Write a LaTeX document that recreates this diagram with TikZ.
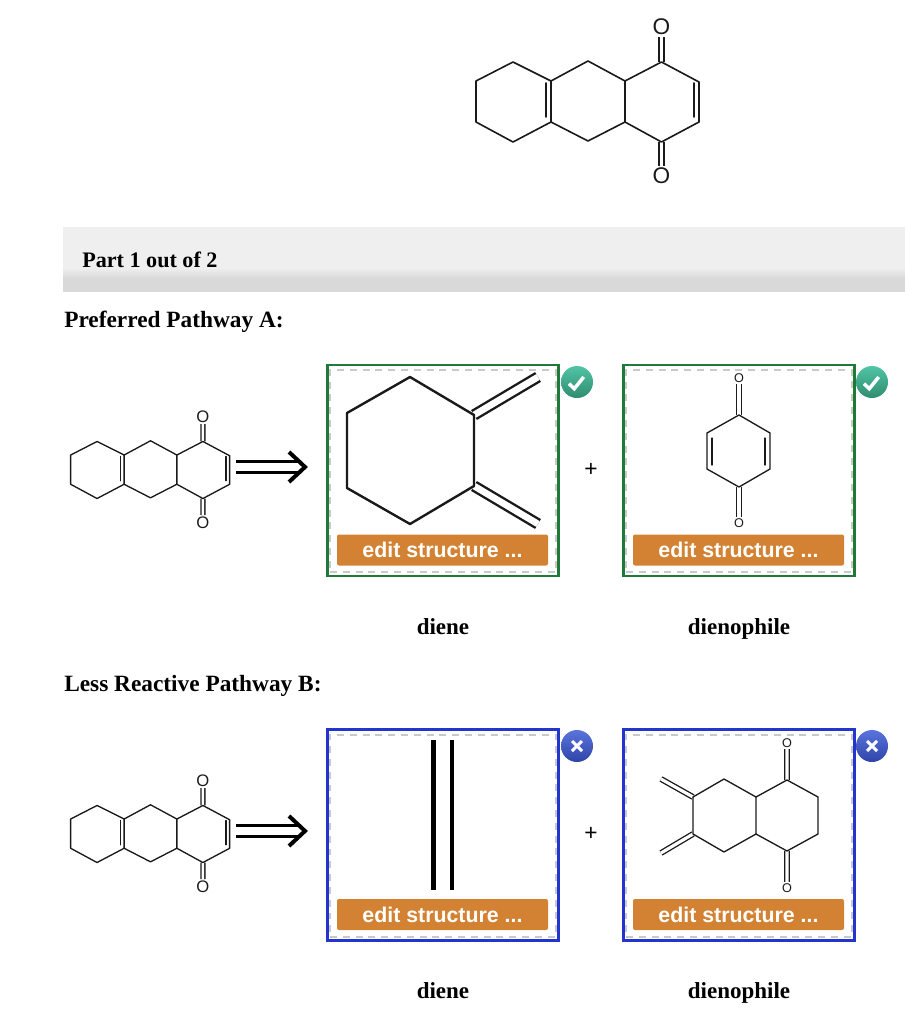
\documentclass[tikz,border=0pt]{standalone}
\usepackage{fontspec}
\setmainfont{Liberation Serif}
\setsansfont{Liberation Sans}
\definecolor{okedge}{HTML}{1F7A3A}
\definecolor{noedge}{HTML}{2236CF}
\definecolor{dashgrey}{HTML}{C9C9C9}
\definecolor{btnfill}{HTML}{D28232}
\definecolor{barlight}{HTML}{EFEFEF}
\definecolor{bardark}{HTML}{D9D9D9}
\definecolor{inkblack}{HTML}{1A1A1A}
\definecolor{okhi}{HTML}{52C4A6}
\definecolor{oklo}{HTML}{2F8C6E}
\definecolor{nohi}{HTML}{5A74DC}
\definecolor{nolo}{HTML}{2E44A8}
\pgfdeclareverticalshading{barshade}{100bp}{color(0bp)=(bardark); color(35bp)=(bardark); color(43bp)=(barlight); color(100bp)=(barlight)}
\tikzset{
    x=0.75pt,
    y=-0.75pt,
    bond/.style =   {draw=inkblack,
                    line cap=round,
                    line join=round},
    atom/.style =   {inner sep=0.8pt,
                    text=inkblack,
                    font=\sffamily\fontsize{#1}{#1}\selectfont},
    bigmol/.style = {line width=1.2pt,
                    dbond/.style={draw=inkblack,double=white,double distance=2.8pt},
                    oxygen/.style={atom=17}},
    smallmol/.style = {line width=1pt,
                    dbond/.style={draw=inkblack,double=white,double distance=1.9pt},
                    oxygen/.style={atom=12.5}},
    boxmol/.style = {line width=1pt,
                    dbond/.style={draw=inkblack,double=white,double distance=2.4pt},
                    oxygen/.style={atom=9.5}},
    widemol/.style = {line width=1.8pt,
                    dbond/.style={draw=inkblack,double=white,double distance=5pt}},
    heading/.style = {font=\bfseries\fontsize{17.5}{20}\selectfont,
                    text=black,
                    anchor=base west,
                    inner sep=0pt},
    caption/.style = {font=\bfseries\fontsize{17.25}{20}\selectfont,
                    text=black,
                    anchor=base,
                    inner sep=0pt},
    plus/.style =   {font=\sffamily\fontsize{17}{20}\selectfont,
                    text=black,
                    inner sep=0pt},
    bar/.style =    {rectangle,
                    shading=barshade,
                    minimum width=631.5pt,
                    minimum height=48pt,
                    inner sep=0pt,
                    outer sep=0pt},
    pics/tricycle/.style = {code={
        \coordinate (t1) at (-75,-40);
        \coordinate (j1) at (-37,-21);
        \coordinate (j2) at (-37,20);
        \coordinate (t2) at (-75,40);
        \coordinate (t3) at (-112,20);
        \coordinate (t4) at (-112,-21);
        \coordinate (m1) at (0,-41);
        \coordinate (f1) at (37,-21);
        \coordinate (f2) at (37,20);
        \coordinate (m2) at (0,39);
        \coordinate (k1) at (73.5,-40);
        \coordinate (e1) at (111,-20);
        \coordinate (e2) at (111,20);
        \coordinate (k2) at (73.5,40);
        \coordinate (i1) at (-42,-19);
        \coordinate (i2) at (-42,15);
        \coordinate (i3) at (106,-19);
        \coordinate (i4) at (106,15);
        \node[oxygen] (o1) at (73.5,-75) {O};
        \node[oxygen] (o2) at (73.5,74)  {O};
        \draw[dbond] (k1) -- (o1);
        \draw[dbond] (k2) -- (o2);
        \draw[bond] (j1) -- (t1) -- (t4) -- (t3) -- (t2) -- (j2) -- cycle;
        \draw[bond] (j1) -- (m1) -- (f1) -- (f2) -- (m2) -- (j2);
        \draw[bond] (f1) -- (k1) -- (e1) -- (e2) -- (k2) -- (f2);
        \draw[bond] (i1) -- (i2);
        \draw[bond] (i3) -- (i4);
    }},
    pics/panel/.style = {code={
        \node[rectangle, draw=dashgrey, line width=1.5pt, dash pattern=on 5.2pt off 4.4pt,
            minimum width=169.5pt, minimum height=151.5pt, inner sep=0pt] (inner) at (0,0.5) {};
        \node[rectangle, draw=#1, line width=2.2pt,
            minimum width=173.25pt, minimum height=158.25pt, inner sep=0pt] (frame) at (0,0) {};
        \node[rectangle, fill=btnfill, rounded corners=1.5pt, text=white,
            font=\sffamily\bfseries\fontsize{16}{18}\selectfont,
            minimum width=158.25pt, minimum height=23.25pt, inner sep=0pt] (btn) at (-0.5,79.5) {edit structure ...};
    }},
    pics/okbadge/.style = {code={
        \node[circle, top color=okhi, bottom color=oklo, draw=none,
            minimum size=24pt, inner sep=0pt] (disc) at (0,0) {};
        \coordinate (c1) at (-8,1.7);
        \coordinate (c2) at (-2.7,6.7);
        \coordinate (c3) at (6.7,-5);
        \draw[white, line width=2.6pt] (c1) -- (c2) -- (c3);
    }},
    pics/nobadge/.style = {code={
        \node[circle, top color=nohi, bottom color=nolo, draw=none,
            minimum size=24pt, inner sep=0pt] (disc) at (0,0) {};
        \coordinate (c1) at (-5,-5);
        \coordinate (c2) at (5,5);
        \coordinate (c3) at (-5,5);
        \coordinate (c4) at (5,-5);
        \draw[white, line width=2.3pt] (c1) -- (c2) (c3) -- (c4);
    }},
    pics/retro/.style = {code={
        \coordinate (ra) at (-34,0);
        \coordinate (rb) at (31,0);
        \coordinate (ha) at (19,-15);
        \coordinate (hb) at (35,0);
        \coordinate (hc) at (19,15);
        \draw[black, line width=2.2pt, double=white, double distance=6.6pt] (ra) -- (rb);
        \draw[black, line width=3pt] (ha) -- (hb) -- (hc);
    }},
}
\begin{document}
\begin{tikzpicture}
    \useasboundingbox (0,0) rectangle (905,1024);
    \pic (top) [bigmol] at (588,102) {tricycle};
    %
    \node[bar] (band) at (484,259) {};
    \node[heading, font=\bfseries\fontsize{16.6}{20}\selectfont] (part) at (82,267) {Part 1 out of 2};
    \node[heading] (patha) at (64,327) {Preferred Pathway A:};
    \node[heading] (pathb) at (64,691) {Less Reactive Pathway B:};
    %
    \pic (la) [smallmol, scale=0.713] at (150.5,470) {tricycle};
    \pic (lb) [smallmol, scale=0.713] at (150.5,834) {tricycle};
    \pic (ra) at (270,467) {retro};
    \pic (rb) at (270,831) {retro};
    %
    \pic (pa) at (443,470.5) {panel=okedge};
    \pic (pb) at (739,470.5) {panel=okedge};
    \pic (pc) at (443,835) {panel=noedge};
    \pic (pd) at (739,835) {panel=noedge};
    \pic (ba) at (577,382) {okbadge};
    \pic (bb) at (872,382) {okbadge};
    \pic (bc) at (577,746) {nobadge};
    \pic (bd) at (872,746) {nobadge};
    %
    \node[plus] (pl1) at (591,470) {+};
    \node[plus] (pl2) at (591,834) {+};
    \node[caption] (d1) at (443,634) {diene};
    \node[caption] (d2) at (739,634) {dienophile};
    \node[caption] (d3) at (443,998) {diene};
    \node[caption] (d4) at (739,998) {dienophile};
    % cyclohexane diene
    \begin{scope}[widemol]
    \coordinate (a1) at (410,377);
    \coordinate (a2) at (474,415);
    \coordinate (a3) at (474,486);
    \coordinate (a4) at (410,524);
    \coordinate (a5) at (347,488);
    \coordinate (a6) at (347,413);
    \coordinate (a7) at (538,377);
    \coordinate (a8) at (538,524);
    \draw [dbond] (a2) -- (a7) (a3) -- (a8);
    \draw [bond] (a1) -- (a2) -- (a3) -- (a4) -- (a5) -- (a6) -- cycle;
    \end{scope}
    \begin{scope}[boxmol]
    % quinone
    \node[oxygen] (q7) at (739,378) {O};
    \node[oxygen] (q8) at (739,523) {O};
    \coordinate (q1) at (739,415);
    \coordinate (q2) at (770,433);
    \coordinate (q3) at (770,469);
    \coordinate (q4) at (739,487);
    \coordinate (q5) at (707,469);
    \coordinate (q6) at (707,433);
    \coordinate (q9) at (712,438);
    \coordinate (q10) at (712,465);
    \coordinate (q11) at (765,438);
    \coordinate (q12) at (765,465);
    \draw [dbond] (q1) -- (q7) (q4) -- (q8);
    \draw [bond] (q1) -- (q2) -- (q3) -- (q4) -- (q5) -- (q6) -- cycle;
    \draw [bond] (q9) -- (q10) (q11) -- (q12);
    % bicyclic dienophile
    \node[oxygen] (n1) at (787,743) {O};
    \node[oxygen] (n2) at (787,888) {O};
    \coordinate (b1) at (693,797);
    \coordinate (b2) at (724,779);
    \coordinate (b3) at (756,797);
    \coordinate (b4) at (756,834);
    \coordinate (b5) at (724,852);
    \coordinate (b6) at (693,834);
    \coordinate (b7) at (787,780);
    \coordinate (b8) at (818,797);
    \coordinate (b9) at (818,834);
    \coordinate (b10) at (787,851);
    \coordinate (b11) at (661,779);
    \coordinate (b12) at (661,853);
    \draw [dbond] (b7) -- (n1) (b10) -- (n2) (b1) -- (b11) (b6) -- (b12);
    \draw [bond] (b1) -- (b2) -- (b3) -- (b4) -- (b5) -- (b6) -- cycle;
    \draw [bond] (b3) -- (b7) -- (b8) -- (b9) -- (b10) -- (b4);
    \end{scope}
    % ethylene
    \coordinate (w1) at (442.5,740);
    \coordinate (w2) at (442.5,890);
    \draw [black, line width=3.6pt, double=white, double distance=10.5pt] (w1) -- (w2);
\end{tikzpicture}
\end{document}
